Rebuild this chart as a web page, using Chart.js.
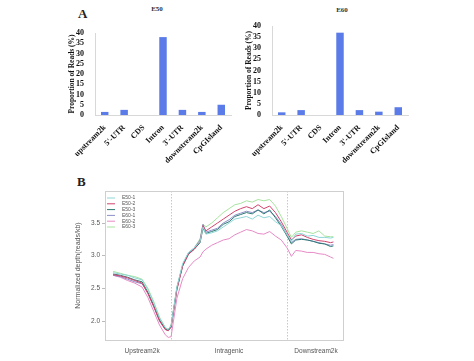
<!DOCTYPE html>
<html>
<head>
<meta charset="utf-8">
<script src="https://cdn.jsdelivr.net/npm/chart.js@4.4.1/dist/chart.umd.min.js"></script>
<style>
  body { margin: 0; background: #fff; }
  #wrap { position: relative; width: 474px; height: 361px; background: #fff; overflow: hidden; }
  canvas { position: absolute; }
  .panel { position: absolute; font-family: "Liberation Serif", serif; font-weight: bold; font-size: 13px; color: #222; }
  .ttl { position: absolute; font-family: "Liberation Serif", serif; font-weight: bold; font-size: 7px; color: #333; transform: translateX(-50%); }
</style>
</head>
<body>
<div id="wrap">
  <div class="panel" style="left:78px; top:6px;">A</div>
  <div class="panel" style="left:77px; top:174px;">B</div>
  <div class="ttl" style="left:157px; top:5px;">E50</div>
  <div class="ttl" style="left:342px; top:6px;">E60</div>
  <canvas id="barE50" style="left:60px; top:0px;" width="180" height="170"></canvas>
  <canvas id="barE60" style="left:237px; top:0px;" width="180" height="170"></canvas>
  <canvas id="depth" style="left:60px; top:175px;" width="300" height="186"></canvas>
</div>
<script>
// Panel A: proportion of reads per region
const regions = ['upstream2k', "5'-UTR", 'CDS', 'Intron', "3'-UTR", 'downstream2k', 'CpGIsland'];
const readsE50 = [1.5, 2.5, 0, 38, 2.5, 1.5, 5];
const readsE60 = [1.2, 2.2, 0, 37, 2.2, 1.5, 3.5];
const readTicks = [0, 5, 10, 15, 20, 25, 30, 35, 40];

// Panel B: normalized depth profile
const binPos = [0, 2.5, 5, 7.5, 10, 12, 14, 16, 18, 19, 20, 22, 24, 26, 28, 30, 31, 32, 34, 36, 38, 40,
  42, 44, 46, 48, 50, 52, 54, 56, 58, 60, 61.5, 63, 65, 67, 69, 71, 73, 75, 76];
const depthE50_1 = [2.74, 2.72, 2.70, 2.66, 2.63, 2.48, 2.28, 2.05, 1.90, 1.87, 1.93, 2.52, 2.88, 3.05, 3.12, 3.22, 3.44, 3.33, 3.35, 3.38, 3.44, 3.50,
  3.56, 3.58, 3.60, 3.56, 3.62, 3.58, 3.60, 3.52, 3.46, 3.32, 3.22, 3.33, 3.34, 3.30, 3.31, 3.28, 3.28, 3.27, 3.28];
const depthE50_2 = [2.71, 2.69, 2.66, 2.62, 2.58, 2.42, 2.22, 2.00, 1.87, 1.85, 1.90, 2.48, 2.84, 3.02, 3.10, 3.22, 3.46, 3.38, 3.44, 3.50, 3.56, 3.62,
  3.68, 3.72, 3.75, 3.72, 3.78, 3.72, 3.76, 3.66, 3.52, 3.36, 3.24, 3.30, 3.32, 3.28, 3.25, 3.23, 3.22, 3.20, 3.21];
const depthE50_3 = [2.72, 2.70, 2.67, 2.63, 2.60, 2.44, 2.24, 2.02, 1.88, 1.86, 1.92, 2.50, 2.85, 3.03, 3.10, 3.20, 3.42, 3.34, 3.37, 3.40, 3.48, 3.52,
  3.60, 3.63, 3.66, 3.64, 3.70, 3.64, 3.70, 3.58, 3.45, 3.30, 3.18, 3.24, 3.25, 3.24, 3.22, 3.19, 3.18, 3.14, 3.15];
const depthE60_1 = [2.70, 2.68, 2.64, 2.60, 2.57, 2.43, 2.23, 2.01, 1.87, 1.86, 1.91, 2.49, 2.86, 3.04, 3.12, 3.24, 3.48, 3.36, 3.39, 3.42, 3.50, 3.55,
  3.62, 3.65, 3.68, 3.66, 3.70, 3.66, 3.68, 3.60, 3.48, 3.32, 3.20, 3.25, 3.26, 3.24, 3.22, 3.20, 3.18, 3.16, 3.17];
const depthE60_2 = [2.70, 2.67, 2.62, 2.58, 2.52, 2.36, 2.15, 1.94, 1.79, 1.75, 1.76, 2.35, 2.65, 2.82, 2.92, 2.98, 3.06, 3.10, 3.16, 3.20, 3.24, 3.26,
  3.32, 3.36, 3.40, 3.38, 3.34, 3.33, 3.37, 3.30, 3.24, 3.12, 2.99, 3.08, 3.07, 3.05, 3.05, 3.03, 3.02, 2.98, 2.96];
const depthE60_3 = [2.76, 2.73, 2.70, 2.68, 2.64, 2.50, 2.30, 2.06, 1.90, 1.87, 1.94, 2.52, 2.86, 3.04, 3.12, 3.26, 3.48, 3.44, 3.50, 3.58, 3.66, 3.72,
  3.78, 3.80, 3.84, 3.82, 3.86, 3.84, 3.86, 3.76, 3.60, 3.42, 3.28, 3.36, 3.38, 3.36, 3.34, 3.38, 3.30, 3.29, 3.29];
const depthTicks = [2.0, 2.5, 3.0, 3.5];
const regionLabels = ['Upstream2k', 'Intragenic', 'Downstream2k'];
const regionLabelPos = [10, 40, 70];
const regionBounds = [20, 60];

const serif = '"Liberation Serif", "Times New Roman", serif';
const sans = '"Liberation Sans", Arial, sans-serif';

function barChart(id, values, padTop) {
  new Chart(document.getElementById(id), {
    type: 'bar',
    data: {
      labels: regions,
      datasets: [{ data: values, backgroundColor: '#5b7ce8', barPercentage: 0.47, categoryPercentage: 0.82 }]
    },
    options: {
      responsive: false,
      animation: false,
      layout: { padding: { top: padTop, right: 9, left: 0, bottom: 0 } },
      plugins: { legend: { display: false }, tooltip: { enabled: false } },
      scales: {
        x: {
          grid: { display: false },
          border: { display: true, color: '#d8d8d8' },
          ticks: { color: '#111', font: { family: serif, size: 8, weight: 'bold' }, minRotation: 45, maxRotation: 45, padding: 0, autoSkip: false },
          afterFit: s => { s.height = 55; }
        },
        y: {
          min: 0, max: 40,
          afterBuildTicks: s => { s.ticks = readTicks.map(v => ({ value: v })); },
          grid: { display: false },
          border: { display: true, color: '#d8d8d8' },
          ticks: { color: '#111', font: { family: serif, size: 8, weight: 'bold' }, padding: 3, autoSkip: false },
          title: { display: true, text: 'Proportion of Reads (%)', color: '#111', font: { family: serif, size: 7.5, weight: 'bold' }, padding: { top: 8, bottom: 0 } },
          afterFit: s => { s.width = 35; }
        }
      }
    }
  });
}

barChart('barE50', readsE50, 33);
barChart('barE60', readsE60, 26);

const depthSeries = [
  { label: 'E50-1', data: depthE50_1, color: '#8fd6d6' },
  { label: 'E50-2', data: depthE50_2, color: '#d2436c' },
  { label: 'E50-3', data: depthE50_3, color: '#2d7a72' },
  { label: 'E60-1', data: depthE60_1, color: '#8d8dc8' },
  { label: 'E60-2', data: depthE60_2, color: '#e68ac6' },
  { label: 'E60-3', data: depthE60_3, color: '#a6e49e' }
];

// box around plot, dashed region boundaries and small legend
const depthDecor = {
  id: 'depthDecor',
  beforeDatasetsDraw(chart) {
    const { ctx, chartArea: a, scales } = chart;
    ctx.save();
    ctx.strokeStyle = '#c8c8c8';
    ctx.lineWidth = 1;
    ctx.setLineDash([1.5, 1.5]);
    regionBounds.forEach(b => {
      const x = Math.round(scales.x.getPixelForValue(b)) + 0.5;
      ctx.beginPath(); ctx.moveTo(x, a.top); ctx.lineTo(x, a.bottom); ctx.stroke();
    });
    ctx.setLineDash([]);
    ctx.strokeStyle = '#cfcfcf';
    ctx.strokeRect(a.left + 0.5, a.top + 0.5, a.width, a.height);
    ctx.restore();
  },
  afterDraw(chart) {
    const { ctx, chartArea: a } = chart;
    ctx.save();
    ctx.font = '5px ' + sans;
    ctx.textBaseline = 'middle';
    chart.data.datasets.forEach((ds, i) => {
      const y = a.top + 7 + i * 5.8;
      ctx.strokeStyle = ds.borderColor;
      ctx.lineWidth = 1;
      ctx.beginPath(); ctx.moveTo(a.left + 2, y); ctx.lineTo(a.left + 10, y); ctx.stroke();
      ctx.fillStyle = '#555';
      ctx.fillText(ds.label, a.left + 17, y);
    });
    ctx.restore();
  }
};

new Chart(document.getElementById('depth'), {
  type: 'line',
  data: {
    datasets: depthSeries.map(s => ({
      label: s.label,
      data: s.data.map((v, i) => ({ x: binPos[i], y: v })),
      borderColor: s.color,
      borderWidth: 1,
      pointRadius: 0,
      tension: 0
    }))
  },
  options: {
    responsive: false,
    animation: false,
    layout: { padding: { top: 16, right: 17, left: 0, bottom: 0 } },
    plugins: { legend: { display: false }, tooltip: { enabled: false } },
    scales: {
      x: {
        type: 'linear', min: -2.8, max: 79.3,
        afterBuildTicks: s => { s.ticks = regionLabelPos.map(v => ({ value: v })); },
        grid: { display: false, drawTicks: false },
        border: { display: false },
        ticks: { color: '#555', font: { family: sans, size: 6.5 }, padding: 7, autoSkip: false, callback: (v, i) => regionLabels[i] },
        afterFit: s => { s.height = 21; }
      },
      y: {
        min: 1.71, max: 3.99,
        afterBuildTicks: s => { s.ticks = depthTicks.map(v => ({ value: v })); },
        grid: { display: true, drawOnChartArea: false, tickLength: 3, color: '#bbb' },
        border: { display: false },
        ticks: { color: '#555', font: { family: sans, size: 6.5 }, padding: 2, autoSkip: false, callback: v => v.toFixed(1) },
        title: { display: true, text: 'Normalized depth(reads/kb)', color: '#555', font: { family: sans, size: 7 }, padding: { top: 14, bottom: 0 } },
        afterFit: s => { s.width = 45; }
      }
    }
  },
  plugins: [depthDecor]
});
</script>
</body>
</html>
